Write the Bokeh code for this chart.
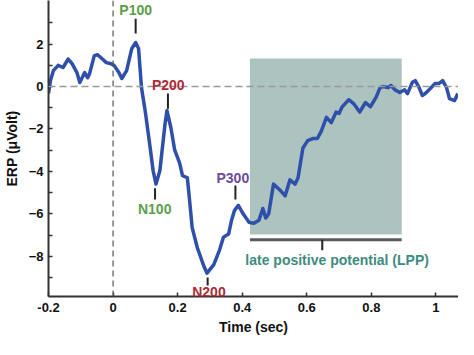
from bokeh.plotting import figure
from bokeh.models import FixedTicker, Span, Label, Range1d
from bokeh.embed import file_html
from bokeh.resources import INLINE

# ---- data ----
time_s = [-0.200, -0.194, -0.185, -0.170, -0.155, -0.139, -0.127, -0.112, -0.103, -0.088,
          -0.079, -0.073, -0.058, -0.048, -0.033, -0.021, -0.006, 0.003, 0.018, 0.027,
          0.042, 0.058, 0.070, 0.079, 0.088, 0.100, 0.115, 0.124, 0.133, 0.145,
          0.161, 0.167, 0.179, 0.191, 0.206, 0.215, 0.230, 0.236, 0.245, 0.261,
          0.282, 0.291, 0.312, 0.330, 0.342, 0.358, 0.367, 0.376, 0.388, 0.403,
          0.421, 0.436, 0.452, 0.464, 0.473, 0.482, 0.497, 0.515, 0.533, 0.548,
          0.564, 0.573, 0.588, 0.603, 0.618, 0.633, 0.645, 0.661, 0.676, 0.691,
          0.700, 0.709, 0.730, 0.745, 0.764, 0.782, 0.797, 0.815, 0.827, 0.836,
          0.852, 0.861, 0.873, 0.888, 0.903, 0.912, 0.927, 0.936, 0.948, 0.958,
          0.967, 0.982, 0.997, 1.009, 1.021, 1.033, 1.042, 1.058, 1.068]
erp_uv = [-0.33, 0.28, 0.75, 1.0, 0.9, 1.3, 1.08, 0.66, 0.19, 0.66,
          0.42, 0.6, 1.46, 1.5, 1.3, 1.13, 1.08, 1.0, 0.66, 0.38,
          0.75, 1.8, 2.08, 1.8, -0.05, -1.2, -2.9, -3.96, -4.6, -3.96,
          -1.75, -1.13, -1.93, -3.0, -3.6, -4.2, -4.3, -5.2, -6.65, -7.6,
          -8.5, -8.8, -8.4, -7.7, -7.1, -6.95, -6.3, -5.85, -5.6, -6.0,
          -6.4, -6.45, -6.3, -5.75, -6.2, -6.0, -4.6, -4.85, -5.15, -4.4,
          -4.6, -4.3, -2.9, -2.55, -2.45, -2.45, -2.1, -1.45, -1.7, -1.2,
          -1.27, -0.97, -0.62, -0.8, -1.2, -0.75, -0.95, -0.5, -0.05, 0.0,
          -0.05, 0.05, -0.15, -0.28, -0.15, -0.33, 0.2, 0.28, -0.05, -0.42,
          -0.33, -0.1, 0.14, 0.14, 0.28, -0.05, -0.57, -0.66, -0.33]

x_ticks = [-0.2, 0, 0.2, 0.4, 0.6, 0.8, 1.0]
x_tick_labels = ["-0.2", "0", "0.2", "0.4", "0.6", "0.8", "1"]
y_ticks = [-8, -6, -4, -2, 0, 2]
y_minor = [-9, -7, -5, -3, -1, 1, 3]

# component labels: name, label x, label y, tick x, tick y0, tick y1, colour
comp_names = ["P100", "N100", "P200", "N200", "P300"]
comp_lx = [0.070, 0.129, 0.171, 0.297, 0.371]
comp_ly = [3.62, -5.75, 0.09, -9.7, -4.3]
comp_tx = [0.070, 0.130, 0.170, 0.293, 0.379]
comp_t0 = [3.2, -4.8, -0.33, -9.0, -4.67]
comp_t1 = [2.5, -5.33, -1.04, -9.38, -5.33]
comp_col = ["#5b9e4a", "#5b9e4a", "#ad2a35", "#ad2a35", "#6b4aa0"]

lpp_start, lpp_end = 0.424, 0.894
lpp_top, lpp_bottom = 1.32, -6.98
lpp_bracket_y = -7.22
lpp_tick_x, lpp_tick_y1 = 0.648, -7.72
lpp_text = "late positive potential (LPP)"
lpp_text_x, lpp_text_y = 0.694, -8.2

FONT = "Liberation Sans"

p = figure(width=458, height=339, output_backend="svg", toolbar_location=None,
           x_range=Range1d(-0.2, 1.07), y_range=Range1d(-9.9, 4.06),
           min_border_left=48, min_border_right=0, min_border_top=0, min_border_bottom=43)
p.outline_line_color = None
p.grid.visible = False
p.background_fill_color = "white"

# LPP window
p.quad(left=[lpp_start], right=[lpp_end], top=[lpp_top], bottom=[lpp_bottom],
       fill_color="#adc3c0", line_color=None)

# reference lines
p.add_layout(Span(location=0, dimension="width", line_color="#9a9a9a",
                  line_dash="7 4", line_width=1.5))
p.add_layout(Span(location=0, dimension="height", line_color="#555555",
                  line_dash="6 4", line_width=1.2))

# ERP waveform
p.line(time_s, erp_uv, line_color="#2e4faa", line_width=3.5, line_join="round")

# component labels
for name, lx, ly, tx, t0, t1, c in zip(comp_names, comp_lx, comp_ly, comp_tx,
                                        comp_t0, comp_t1, comp_col):
    p.segment(x0=[tx], y0=[t0], x1=[tx], y1=[t1], line_color="#222222", line_width=2)
    p.add_layout(Label(x=lx, y=ly, text=name, text_color=c, text_font=FONT,
                       text_font_style="bold", text_font_size="14px",
                       text_align="center", text_baseline="middle"))

# LPP bracket
p.segment(x0=[lpp_start], y0=[lpp_bracket_y], x1=[lpp_end], y1=[lpp_bracket_y],
          line_color="#5a5a5a", line_width=3)
p.segment(x0=[lpp_tick_x], y0=[lpp_bracket_y], x1=[lpp_tick_x], y1=[lpp_tick_y1],
          line_color="#222222", line_width=2)
p.add_layout(Label(x=lpp_text_x, y=lpp_text_y, text=lpp_text, text_color="#3e8b80",
                   text_font=FONT, text_font_style="bold", text_font_size="14px",
                   text_align="center", text_baseline="middle"))

# axes
xa = p.xaxis[0]
xa.ticker = FixedTicker(ticks=x_ticks)
xa.major_label_overrides = {t: l for t, l in zip(x_ticks, x_tick_labels)}
xa.axis_label = "Time (sec)"
ya = p.yaxis[0]
ya.ticker = FixedTicker(ticks=y_ticks, minor_ticks=y_minor)
ya.axis_label = "ERP (\u03bcVolt)"
for ax in (xa, ya):
    ax.axis_line_color = "#333333"
    ax.axis_line_width = 2
    ax.major_tick_in = 4
    ax.major_tick_out = 0
    ax.major_tick_line_color = "#333333"
    ax.major_tick_line_width = 1.5
    ax.minor_tick_in = 4
    ax.minor_tick_out = 0
    ax.minor_tick_line_color = "#333333"
    ax.minor_tick_line_width = 1.5
    ax.major_label_text_font = FONT
    ax.major_label_text_font_style = "bold"
    ax.major_label_text_font_size = "13px"
    ax.major_label_text_color = "#111111"
    ax.axis_label_text_font = FONT
    ax.axis_label_text_font_style = "bold"
    ax.axis_label_text_font_size = "14px"
    ax.axis_label_text_color = "#111111"
xa.minor_tick_in = 0
xa.major_label_standoff = 6
xa.axis_label_standoff = 4
ya.major_label_standoff = 5
ya.axis_label_standoff = 6

open("out.html", "w").write(file_html(p, INLINE))
